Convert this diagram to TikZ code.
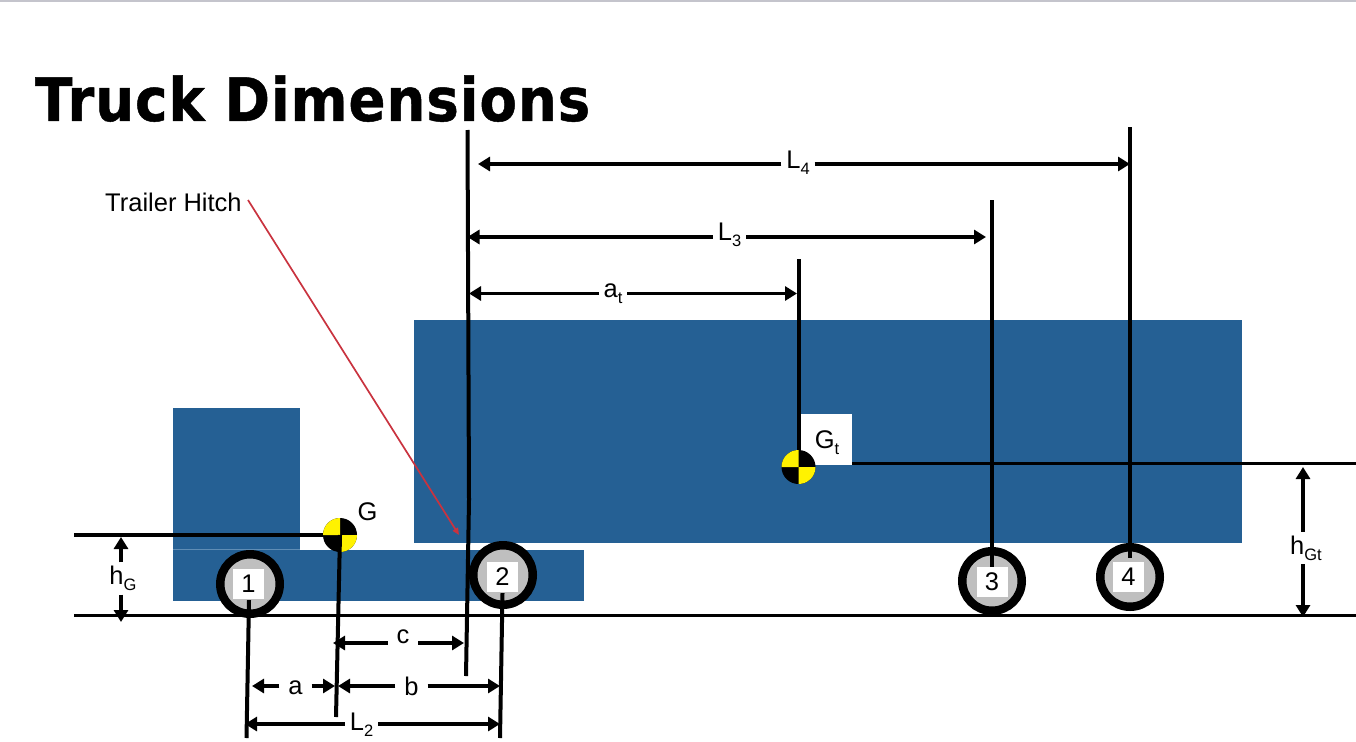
\documentclass[tikz,border=0pt]{standalone}
\usepackage{fontspec}
\setmainfont{Liberation Sans}
\newfontfamily\titlefont{DejaVu Sans Bold}[FakeStretch=0.91,FakeBold=0.8,LetterSpace=1.6]
\usetikzlibrary{arrows.meta}
\definecolor{truckblue}{HTML}{256094}
\definecolor{tyregrey}{HTML}{BFBFBF}
\definecolor{hitchred}{HTML}{C9333F}
\definecolor{rulegrey}{HTML}{C4C4CC}
\definecolor{seam}{HTML}{5F8DB5}
\newcommand\lowtxt[1]{\raisebox{-0.45ex}{\fontsize{16.5}{16.5}\selectfont #1}}
\tikzset{
  x=1pt,y=-1pt,
  every node/.style={font=\fontsize{25.5}{25.5}\selectfont},
  body/.style={fill=truckblue,draw=none},
  wheel/.style={circle,draw=black,fill=tyregrey,line width=8.5pt,minimum size=59.5pt,inner sep=0pt},
  axlebox/.style={fill=white,minimum width=31pt,minimum height=30pt,inner sep=0pt},
  cgdot/.style={circle,fill=black,minimum size=34pt,inner sep=0pt,outer sep=0pt},
  baseline rule/.style={line width=3.8pt,black},
  refline/.style={line width=4pt,black},
  dim/.style={line width=3.9pt,black,-{Triangle[length=12pt,width=14pt]}},
  dimlab/.style={inner ysep=0pt,inner xsep=5pt,outer sep=0pt},
  widelab/.style={inner ysep=0pt,inner xsep=9pt,outer sep=0pt},
}
\newcommand\cgquarters[1]{%
  \fill[yellow] (#1.center) -- ++(-17pt,0pt) arc[start angle=180,end angle=90,radius=17pt] -- cycle;
  \fill[yellow] (#1.center) -- ++(17pt,0pt) arc[start angle=0,end angle=-90,radius=17pt] -- cycle;}
\begin{document}
\begin{tikzpicture}
\useasboundingbox (0,0) rectangle (1356,741);
\fill[rulegrey] (0,0) rectangle (1356,2);
\node[anchor=base west,inner sep=0pt,font=\titlefont\fontsize{60}{60}\selectfont] (title) at (35,121) {Truck Dimensions};

% bodies
\fill[body] (173,408) rectangle (300,549.5);
\fill[body] (173,549.5) rectangle (584,601);
\fill[seam] (173,549) rectangle (300,549.8);
\fill[body] (414,320) rectangle (1242,543);

% free ends
\coordinate (gl) at (74,615.5);
\coordinate (gr) at (1356,615.5);
\coordinate (hgl) at (74,535);
\coordinate (hgtr) at (1356,463.5);
\coordinate (hitchT) at (467.5,130);
\coordinate (hitchM) at (469,500);
\coordinate (hitchB) at (466,676);
\coordinate (w1B) at (246.5,738);
\coordinate (w2B) at (500,738);
\coordinate (gB) at (336,717);
\coordinate (gtT) at (798.5,259);
\coordinate (w3T) at (992,200);
\coordinate (w4T) at (1130,127);
\coordinate (w4E) at (1130,558);

% wheels
\node[wheel] (w1) at (250,584) {};
\node[wheel] (w2) at (503,575) {};
\node[wheel] (w3) at (992,581) {};
\node[wheel] (w4) at (1130,577) {};
\draw[baseline rule] (gl) -- (gr);
\node[axlebox] (b1) at (248.5,584) {1};
\node[axlebox] (b2) at (502.5,577) {2};
\node[axlebox] (b3) at (992,582) {3};
\node[axlebox] (b4) at (1128.5,576.5) {4};

% reference lines
\draw[baseline rule] (hgl) -- (330,535);
\draw[refline] (hitchT) -- (hitchM) -- (hitchB);
\draw[baseline rule] (798,463.5) -- (hgtr);
\draw[refline] (gtT) -- (798.5,467);
\draw[refline] (w3T) -- (b3.north);
\draw[refline] (w4T) -- (w4E);
\draw[refline] ([xshift=.5pt,yshift=-1pt]b1.south) -- (w1B);
\draw[refline] ([yshift=-1pt]b2.south) -- (w2B);

% CG markers
\node[fill=white,minimum width=51pt,minimum height=51pt,inner sep=0pt] (gtbox) at (826.5,439.5) {};
\node[inner sep=0pt] (gtlab) at (827,443) {G\lowtxt{t}};
\node[cgdot] (gt) at (798.5,467) {};
\cgquarters{gt}
\node[cgdot] (g) at (340,535) {};
\cgquarters{g}
\draw[refline] (g.center) -- (gB);
\node[inner sep=0pt] (glab) at (367.5,512) {G};

% trailer hitch
\node[anchor=west,inner sep=0pt] (hitch) at (105,202) {Trailer Hitch};
\coordinate (hitchP) at (248,200);
\coordinate (hitchQ) at (459,535);
\draw[hitchred,line width=1.7pt,-{Triangle[length=7pt,width=6pt]}] (hitchP) -- (hitchQ);

% dimension tips
\coordinate (L4a) at (478,164);  \coordinate (L4b) at (1130,164);
\coordinate (L3a) at (467.5,237);  \coordinate (L3b) at (986,237);
\coordinate (ata) at (469,293.5); \coordinate (atb) at (797,293.5);
\coordinate (ca) at (333,643);   \coordinate (cb) at (464,643);
\coordinate (aa) at (252,686);   \coordinate (ab) at (335,686);
\coordinate (ba) at (338,686);   \coordinate (bb) at (500,686);
\coordinate (L2a) at (245,724);  \coordinate (L2b) at (500,724);

\node[dimlab] (L4) at (798,163) {L\lowtxt{4}};
\node[dimlab] (L3) at (729.5,235) {L\lowtxt{3}};
\node[dimlab] (at) at (613,294) {a\lowtxt{t}};
\node[widelab] (c) at (403,637) {c};
\node[widelab] (a) at (295.5,688) {a};
\node[widelab] (b) at (411.5,686) {b};
\node[dimlab] (L2) at (361.5,725) {L\lowtxt{2}};

\foreach \n/\l/\r in {L4/L4a/L4b,L3/L3a/L3b,at/ata/atb,c/ca/cb,a/aa/ab,b/ba/bb,L2/L2a/L2b}{
  \draw[dim] (\n.west |- \l) -- (\l);
  \draw[dim] (\n.east |- \r) -- (\r);
}

% height dimensions
\coordinate (hgU) at (121,537);
\coordinate (hgD) at (121,622);
\coordinate (hgtU) at (1303,467);
\coordinate (hgtD) at (1303,617);
\node[inner ysep=0pt,inner xsep=0pt,minimum height=32pt] (hG) at (123,578.5) {h\lowtxt{G}};
\node[inner ysep=0pt,inner xsep=0pt,minimum height=32pt] (hGt) at (1306,548) {h\lowtxt{Gt}};
\draw[dim] (hG.north -| hgU) -- (hgU);
\draw[dim] (hG.south -| hgD) -- (hgD);
\draw[dim] (hGt.north -| hgtU) -- (hgtU);
\draw[dim] (hGt.south -| hgtD) -- (hgtD);
\end{tikzpicture}
\end{document}
